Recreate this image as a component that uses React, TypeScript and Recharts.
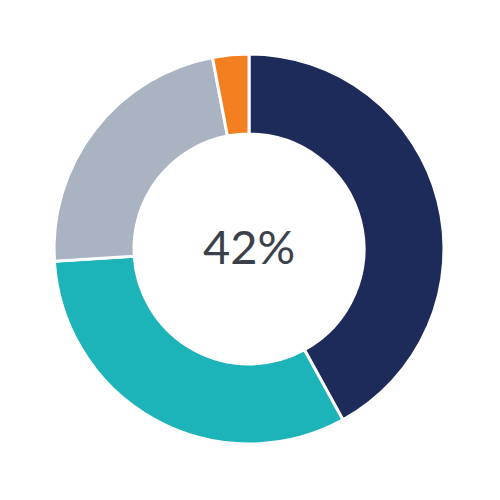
import { PieChart, Pie, Cell } from "recharts";

const segments = ["A", "B", "C", "D"];
const shares = [42, 32, 23, 3];
const colors = ["#1c2b5a", "#1cb4b8", "#a9b3c1", "#f47f20"];
const centerLabel = "42%";

const data = segments.map((name, i) => ({ name, value: shares[i] }));

export default function App() {
  return (
    <div style={{ position: "absolute", top: 0, left: 0, width: 500, height: 500, background: "#fff" }}>
      <PieChart width={500} height={500} margin={{ top: 0, right: 0, bottom: 0, left: 0 }}>
        <Pie
          data={data}
          dataKey="value"
          cx={249}
          cy={249}
          innerRadius={115}
          outerRadius={195}
          startAngle={90}
          endAngle={-270}
          stroke="#ffffff"
          strokeWidth={3}
          isAnimationActive={false}
        >
          {data.map((d, i) => (
            <Cell key={d.name} fill={colors[i]} />
          ))}
        </Pie>
        <text
          x={249}
          y={246}
          textAnchor="middle"
          dominantBaseline="central"
          fontFamily="Lato, sans-serif"
          fontSize={47}
          fill="#3a414b"
        >
          {centerLabel}
        </text>
      </PieChart>
    </div>
  );
}
